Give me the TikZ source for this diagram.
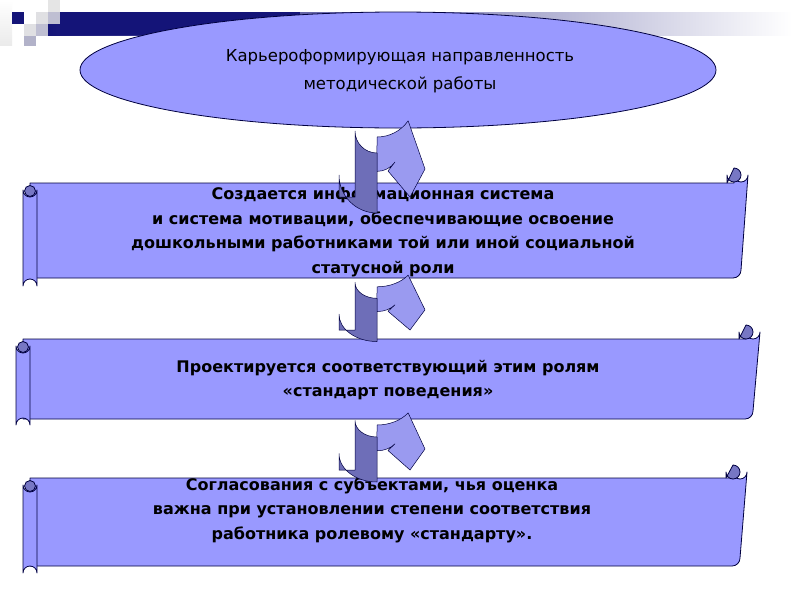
\documentclass[tikz,border=0pt]{standalone}
\usepackage{fontspec}
\usetikzlibrary{shapes.geometric}
\setmainfont{DejaVu Sans}
\newcommand{\myscroll}[7]{% L T B RB R RT name
  \path[sfill] (#1+7,#2) -- (#5-7,#2) -- (#5-7,#6+7) arc (180:0:7) -- (#5,#3-8) arc (0:90:8) -- (#1+7,#3) -- cycle;
  \path[rollcap] (#5-14,#2) -- (#5-14,#6+7) arc (180:0:7) arc (0:-90:7) -- cycle;
  \path[sfill] (#1,#2+7) arc (180:0:7) -- (#1+14,#4-7) arc (0:-180:7) -- cycle;
  \path[rollcap] (#1+7,#2+8) circle (5.5);
  \coordinate (#7) at ({(#1+#5)/2},{(#2+#3)/2});
}
\newcommand{\curarr}[3]{% x y yscale
 \begin{scope}[shift={(#1,#2)},yscale=#3]
  \path[fill=arrR,draw=navyln,line width=0.5pt] (38,-60) arc (90:35:38) -- (86,-28) -- (71,0) -- (49,-26) -- (56,-35) arc (35:90:22) -- cycle;
  \path[fill=arrL,draw=navyln,line width=0.5pt] (0,0) -- (0,-22) arc (180:90:38) -- (38,-44) arc (90:180:22) -- (16,0) -- cycle;
 \end{scope}}
\definecolor{scr}{HTML}{9999FF}
\definecolor{capc}{HTML}{7777C4}
\definecolor{navyln}{HTML}{000040}
\definecolor{navy}{HTML}{141478}
\definecolor{arrL}{HTML}{6E6EB8}
\definecolor{arrR}{HTML}{9A9AF0}
\begin{document}
\begin{tikzpicture}[x=1pt,y=-1pt,line join=round,
  sfill/.style={fill=scr,draw=navyln,line width=0.8pt},
  rollcap/.style={fill=capc,draw=navyln,line width=0.8pt},
  btxt/.style={font=\bfseries\fontsize{16}{24.5}\selectfont,align=center,text=black},
  rtxt/.style={font=\fontsize{16.5}{28}\selectfont,align=center,text=black}]
\useasboundingbox (0,0) rectangle (800,600);
\fill[white] (0,0) rectangle (800,600);
% top decoration
\shade[left color=navy,right color=white] (48,12) rectangle (792,35);
\fill[navy] (60,12) rectangle (300,35);
\shade[top color=white,bottom color=black!8] (0,0) rectangle (12,45);
\fill[navy] (12,12) rectangle (24,24);
\fill[black!10] (48,0) rectangle (60,12);
\fill[blue!10!black!12] (36,12) rectangle (48,24);
\fill[blue!30!black!25] (48,12) rectangle (60,24);
\fill[blue!10!black!12] (24,24) rectangle (36,36);
\fill[blue!30!black!25] (36,24) rectangle (48,36);
\fill[blue!30!black!30] (24,36) rectangle (36,46);
% ellipse
\node[draw=navyln,fill=scr,ellipse,line width=0.8pt,minimum width=636pt,minimum height=116pt,inner sep=0pt] (top) at (398,70) {};
\node[rtxt] (toptxt) at (400,71) {Карьероформирующая направленность\\методической работы};
\myscroll{23}{183}{278}{293}{741}{168}{s1}
\myscroll{16}{339}{419}{432}{753}{325}{s2}
\myscroll{23}{478}{566}{580}{740}{465}{s3}
\node[btxt] (t1) at (383,232) {Создается информационная система\\и система мотивации, обеспечивающие освоение\\дошкольными работниками той или иной социальной\\статусной роли};
\node[btxt] (t2) at (388,380) {Проектируется соответствующий этим ролям\\«стандарт поведения»};
\node[btxt] (t3) at (372,510) {Согласования с субъектами, чья оценка\\важна при установлении степени соответствия\\работника ролевому «стандарту».};
\curarr{339}{197}{1}
\curarr{339}{330}{0.72}
\curarr{339}{470}{0.75}
\end{tikzpicture}
\end{document}
